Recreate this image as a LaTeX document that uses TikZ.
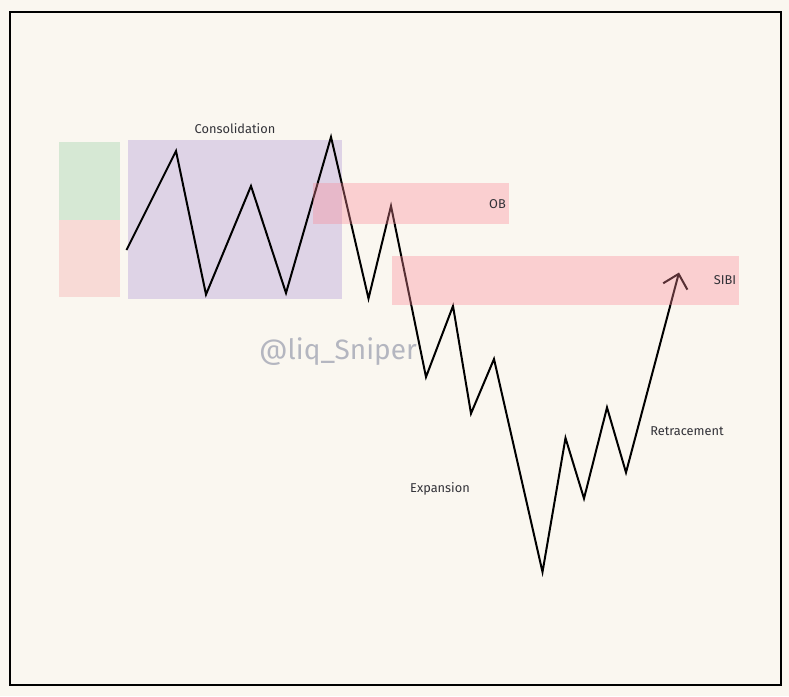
\documentclass[tikz,border=0pt]{standalone}
\usepackage{fontspec}
\setmainfont{Fira Sans}
\usetikzlibrary{arrows.meta}

\definecolor{paper}{RGB}{250,247,240}
\definecolor{bullgreen}{RGB}{214,232,212}
\definecolor{bearpink}{RGB}{248,218,214}
\definecolor{rangepurple}{RGB}{222,211,230}
\definecolor{zonered}{RGB}{250,135,149}
\definecolor{labelgray}{RGB}{50,50,56}
\definecolor{markgray}{RGB}{180,182,192}

\begin{document}
\begin{tikzpicture}[x=1pt, y=-1pt,
    zone/.style={fill opacity=0.35, draw=none},
    lbl/.style={text=labelgray, font=\fontsize{12.8}{14}\selectfont, inner sep=0pt},
    price/.style={line width=2pt, line join=miter, black}]
      \useasboundingbox[fill=paper] (0, 0) rectangle (789, 696);

      % Frame
      \draw[line width=2pt] (10, 12) rectangle (781, 685);

      % Candle
      \fill[bullgreen] (59, 142) rectangle (120, 219.5);
      \fill[bearpink] (59, 219.5) rectangle (120, 297);

      % Range
      \fill[rangepurple] (128, 140) rectangle (342, 298.5);

      % Price path
      \coordinate (p1) at (126.5, 250);
      \coordinate (p2) at (176, 151);
      \coordinate (p3) at (206, 294.5);
      \coordinate (p4) at (251, 186);
      \coordinate (p5) at (286, 293);
      \coordinate (p6) at (331, 137);
      \coordinate (p7) at (368.5, 298.5);
      \coordinate (p8) at (391, 206);
      \coordinate (p9) at (426, 377);
      \coordinate (p10) at (453, 306);
      \coordinate (p11) at (471, 413.5);
      \coordinate (p12) at (494, 359);
      \coordinate (p13) at (542.5, 572);
      \coordinate (p14) at (565.5, 438);
      \coordinate (p15) at (584, 498.5);
      \coordinate (p16) at (607, 407.5);
      \coordinate (p17) at (626, 472.5);
      \coordinate (p18) at (679, 272.5);
      \draw[price, -{Straight Barb[length=13pt, width=25pt, line width=2pt]}]
        (p1) -- (p2) -- (p3) -- (p4) -- (p5) -- (p6) -- (p7) -- (p8) -- (p9)
        -- (p10) -- (p11) -- (p12) -- (p13) -- (p14) -- (p15) -- (p16) -- (p17) -- (p18);

      % Zones
      \fill[zone, zonered] (313, 183) rectangle (509, 223.5);
      \fill[zone, zonered] (392, 256) rectangle (739, 305);

      % Labels
      \node[lbl] (consol) at (235, 129) {Consolidation};
      \node[lbl] (ob) at (497.5, 204) {OB};
      \node[lbl] (sibi) at (725, 280) {SIBI};
      \node[lbl] (expan) at (440, 489) {Expansion};
      \node[lbl] (retrace) at (687, 431) {Retracement};
      \node[text=markgray, font=\fontsize{28}{30}\selectfont, inner sep=0pt] (mark) at (338, 352) {@liq\_Sniper};
    \end{tikzpicture}
\end{document}
